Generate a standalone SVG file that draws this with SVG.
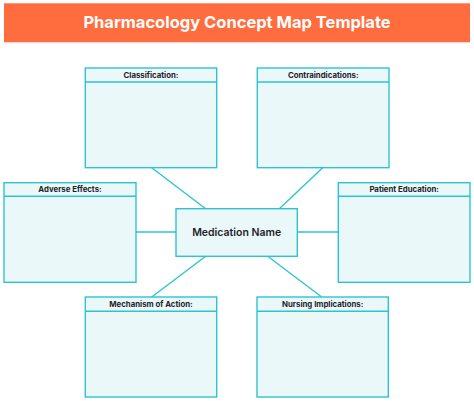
<svg xmlns="http://www.w3.org/2000/svg" width="474" height="401" viewBox="0 0 474 401">
<style>
.box{fill:#eaf8fa;stroke:#2ec3d1;stroke-width:1.4}
.hd{stroke:#2ec3d1;stroke-width:1.4}
.ln{stroke:#2ec3d1;stroke-width:1.4;fill:none}
.lbl{font-family:Inter,"Liberation Sans",sans-serif;font-weight:700;font-size:7.8px;fill:#1f2329;text-anchor:middle}
.ttl{font-family:Inter,"Liberation Sans",sans-serif;font-weight:700;font-size:16.5px;fill:#ffffff;text-anchor:middle}
.mid{font-family:Inter,"Liberation Sans",sans-serif;font-weight:600;font-size:10.5px;fill:#1f2329;text-anchor:middle}
</style>
<rect width="474" height="401" fill="#ffffff"/>
<g id="title">
<rect x="4" y="3.3" width="466" height="39" fill="#ff6d3f"/>
<text class="ttl" x="237" y="28.3">Pharmacology Concept Map Template</text>
</g>
<g id="connectors">
<line class="ln" x1="151.7" y1="167.7" x2="205.7" y2="208.7"/>
<line class="ln" x1="322.7" y1="167.7" x2="279.3" y2="208.7"/>
<line class="ln" x1="136" y1="232" x2="176" y2="232"/>
<line class="ln" x1="297.3" y1="232" x2="338.3" y2="232"/>
<line class="ln" x1="205.7" y1="256.3" x2="151.7" y2="297"/>
<line class="ln" x1="267.7" y1="256.3" x2="321.7" y2="297"/>
</g>
<g id="classification">
<rect class="box" x="85.3" y="68" width="131.4" height="99.7"/>
<line class="hd" x1="85.3" y1="82" x2="216.7" y2="82"/>
<text class="lbl" x="151" y="77.8">Classification:</text>
</g>
<g id="contraindications">
<rect class="box" x="257.3" y="68" width="131.7" height="99.7"/>
<line class="hd" x1="257.3" y1="82" x2="389" y2="82"/>
<text class="lbl" x="323.2" y="77.8">Contraindications:</text>
</g>
<g id="adverse-effects">
<rect class="box" x="4" y="182.7" width="132" height="99.6"/>
<line class="hd" x1="4" y1="196.3" x2="136" y2="196.3"/>
<text class="lbl" x="70" y="192.4">Adverse Effects:</text>
</g>
<g id="patient-education">
<rect class="box" x="338.3" y="182.7" width="131.7" height="99.6"/>
<line class="hd" x1="338.3" y1="196.3" x2="470" y2="196.3"/>
<text class="lbl" x="404.2" y="192.4">Patient Education:</text>
</g>
<g id="medication-name">
<rect class="box" x="176" y="208.7" width="121.3" height="47.6"/>
<text class="mid" x="236.7" y="235.7">Medication Name</text>
</g>
<g id="mechanism-of-action">
<rect class="box" x="85.3" y="297" width="131.4" height="100"/>
<line class="hd" x1="85.3" y1="311.3" x2="216.7" y2="311.3"/>
<text class="lbl" x="151" y="307">Mechanism of Action:</text>
</g>
<g id="nursing-implications">
<rect class="box" x="257" y="297" width="131.3" height="100"/>
<line class="hd" x1="257" y1="311.3" x2="388.3" y2="311.3"/>
<text class="lbl" x="322.7" y="307">Nursing Implications:</text>
</g>
</svg>
